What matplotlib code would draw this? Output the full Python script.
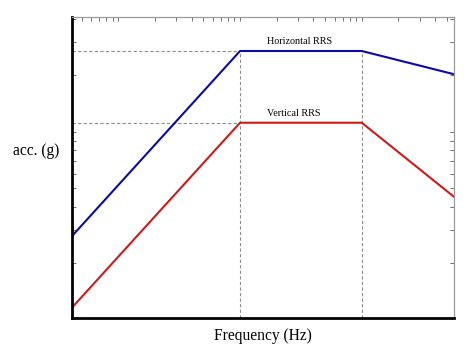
import numpy as np
import matplotlib
matplotlib.use('Agg')
import matplotlib.pyplot as plt
from matplotlib.ticker import LogLocator, NullFormatter

# 数据 (读图估计, 对数坐标)
freq = [0.0417, 1.0, 10.0, 57.3]
horiz_rrs = [0.0279, 0.270, 0.270, 0.203]
vert_rrs = [0.0116, 0.112, 0.112, 0.0451]
x_lim = [0.0417, 57.3]
y_lim = [0.0102, 0.41]
labels = ['Horizontal RRS', 'Vertical RRS']

plt.rcParams['font.family'] = ['Liberation Serif', 'DejaVu Serif']

fig = plt.figure(figsize=(4.74, 3.53), dpi=100)
ax = fig.add_axes([0.152, 0.099, 0.806, 0.853])

# 虚线辅助线
dash = dict(color='#8c8c8c', lw=0.8, ls=(0, (3, 2)))
for lvl in [horiz_rrs[1], vert_rrs[1]]:
    ax.plot([x_lim[0], freq[1]], [lvl, lvl], **dash)
for f in [freq[1], freq[2]]:
    ax.plot([f, f], [y_lim[0], horiz_rrs[1]], **dash)

ax.plot(freq, horiz_rrs, color='#0a0aa6', lw=1.5)
ax.plot(freq, vert_rrs, color='#cc1a1a', lw=1.5)

ax.text(1.68, horiz_rrs[1] * 1.06, labels[0], fontsize=7.3, ha='left', va='bottom')
ax.text(1.68, vert_rrs[1] * 1.06, labels[1], fontsize=7.3, ha='left', va='bottom')

ax.set_xscale('log')
ax.set_yscale('log')
ax.set_xlim(x_lim)
ax.set_ylim(y_lim)

for a in [ax.xaxis, ax.yaxis]:
    a.set_major_locator(LogLocator(base=10))
    a.set_minor_locator(LogLocator(base=10, subs=np.arange(2, 10)))
    a.set_major_formatter(NullFormatter())
    a.set_minor_formatter(NullFormatter())
ax.tick_params(which='both', direction='in', length=3, width=0.6, color='#555555',
               top=True, right=True, bottom=False, left=True)

for s in ['top', 'right']:
    ax.spines[s].set_color('#9a9a9a')
    ax.spines[s].set_linewidth(0.9)
for s in ['left', 'bottom']:
    ax.spines[s].set_color('black')
    ax.spines[s].set_linewidth(2.0)

ax.set_xlabel('Frequency (Hz)', fontsize=11.2, labelpad=4)
ax.set_ylabel('acc. (g)', fontsize=11.2, rotation=0, ha='center', va='center')
ax.yaxis.set_label_coords(-0.094, 0.555)

fig.savefig('out.png', dpi=100)
